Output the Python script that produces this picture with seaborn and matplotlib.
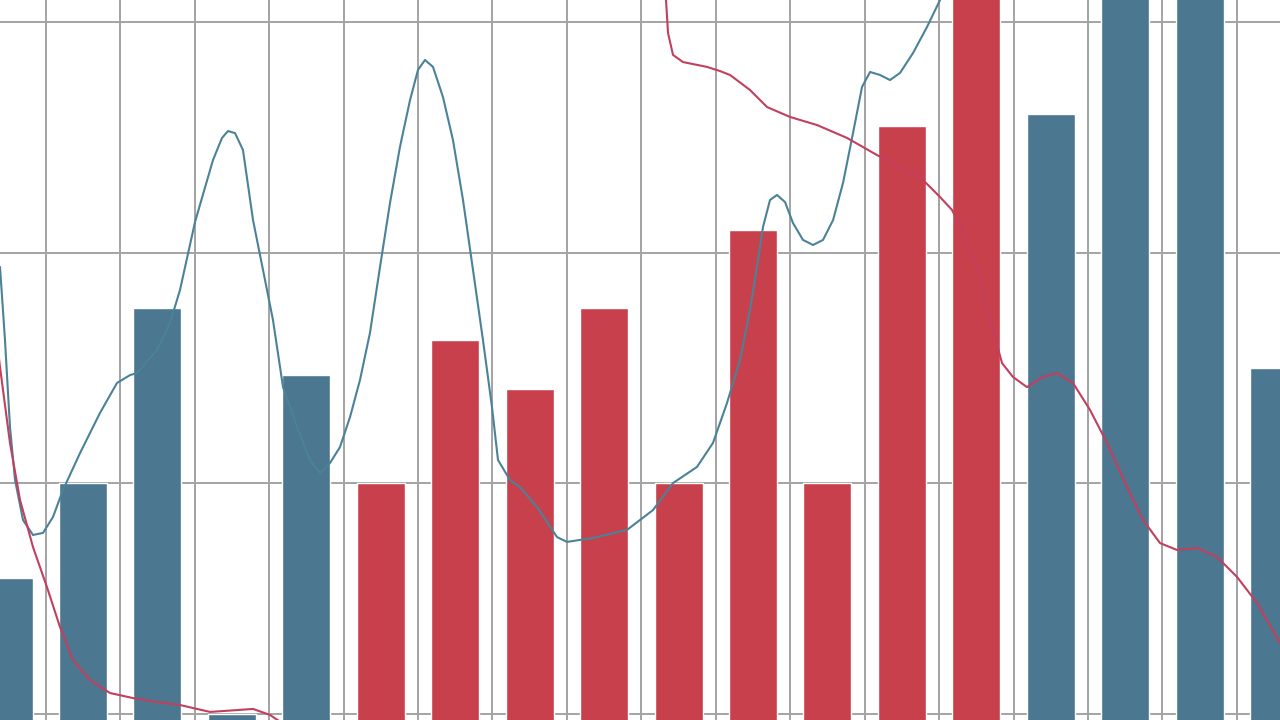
import numpy as np
import pandas as pd
import matplotlib
matplotlib.use("Agg")
import matplotlib.pyplot as plt
import seaborn as sns

# bar data (one bar per slot)
bar_idx = list(range(18))
bar_values = [1.59, 2.0, 2.76, 1.0, 2.47, 2.0, 2.62, 2.41, 2.76, 2.0,
              3.10, 2.0, 3.55, 4.3, 3.60, 4.4, 4.5, 2.50]
bar_group = ["blue"] * 5 + ["red"] * 9 + ["blue"] * 4

# blue curve
blue_x = [-0.115, -0.048, 0.019, 0.087, 0.194, 0.328, 0.463, 0.597, 0.731, 0.960,
          1.228, 1.457, 1.631, 1.725, 1.994, 2.169, 2.303, 2.505, 2.746, 2.867,
          2.948, 3.042, 3.149, 3.284, 3.418, 3.552, 3.687, 3.875, 4.049, 4.184,
          4.318, 4.452, 4.587, 4.721, 4.855, 4.990, 5.124, 5.258, 5.393, 5.500,
          5.594, 5.702, 5.836, 5.970, 6.105, 6.239, 6.373, 6.494, 6.575, 6.736,
          6.870, 7.099, 7.368, 7.502, 7.851, 8.308, 8.657, 8.926, 9.248, 9.463,
          9.651, 9.826, 9.960, 10.068, 10.135, 10.229, 10.323, 10.431, 10.538, 10.672,
          10.807, 10.941, 11.076, 11.210, 11.344, 11.465, 11.573, 11.707, 11.841, 11.976,
          12.150, 12.338, 12.513, 12.647]
blue_y = [2.938, 2.621, 2.244, 2.014, 1.841, 1.776, 1.785, 1.854, 1.971, 2.131,
          2.305, 2.435, 2.469, 2.478, 2.578, 2.695, 2.838, 3.133, 3.401, 3.497,
          3.527, 3.518, 3.445, 3.141, 2.925, 2.708, 2.417, 2.244, 2.101, 2.045,
          2.088, 2.157, 2.287, 2.448, 2.652, 2.938, 3.215, 3.458, 3.661, 3.792,
          3.835, 3.805, 3.674, 3.488, 3.228, 2.925, 2.621, 2.331, 2.101, 2.014,
          1.984, 1.897, 1.767, 1.746, 1.763, 1.798, 1.884, 2.001, 2.071, 2.175,
          2.348, 2.534, 2.751, 2.968, 3.111, 3.228, 3.250, 3.219, 3.128, 3.055,
          3.033, 3.055, 3.141, 3.302, 3.518, 3.718, 3.783, 3.770, 3.748, 3.779,
          3.865, 3.978, 4.095, 4.182]

# red curve, first piece (left side)
red1_x = [-0.222, -0.115, 0.019, 0.154, 0.328, 0.516, 0.691, 0.866, 1.094, 1.363,
          1.672, 1.994, 2.303, 2.706, 3.069, 3.284, 3.512, 3.714, 3.915]
red1_y = [2.795, 2.504, 2.175, 1.928, 1.724, 1.550, 1.377, 1.234, 1.147, 1.091,
          1.069, 1.052, 1.039, 1.009, 1.017, 1.022, 0.996, 0.952, 0.866]

# red curve, second piece (right side)
red2_x = [8.684, 8.832, 8.859, 8.926, 9.060, 9.383, 9.557, 9.692, 9.960, 10.189,
          10.498, 10.861, 11.264, 11.666, 11.975, 12.284, 12.513, 12.674, 12.808, 13.037,
          13.225, 13.346, 13.493, 13.681, 13.896, 14.084, 14.299, 14.528, 14.756, 15.025,
          15.240, 15.468, 15.697, 15.965, 16.234, 16.503, 16.772, 17.080, 17.282]
red2_y = [4.268, 4.095, 3.952, 3.857, 3.826, 3.805, 3.787, 3.770, 3.705, 3.631,
          3.588, 3.553, 3.497, 3.423, 3.371, 3.315, 3.241, 3.185, 3.098, 2.912,
          2.664, 2.521, 2.461, 2.417, 2.461, 2.478, 2.435, 2.318, 2.175, 1.984,
          1.841, 1.741, 1.711, 1.720, 1.681, 1.594, 1.481, 1.308, 1.191]

bars = pd.DataFrame({"idx": bar_idx, "value": bar_values, "group": bar_group})

lines = pd.concat([
    pd.DataFrame({"x": blue_x, "y": blue_y, "series": "blue", "seg": 0}),
    pd.DataFrame({"x": red1_x, "y": red1_y, "series": "red", "seg": 1}),
    pd.DataFrame({"x": red2_x, "y": red2_y, "series": "red", "seg": 2}),
], ignore_index=True)

sns.set_style("white")

fig = plt.figure(figsize=(12.8, 7.2), dpi=100)
ax = fig.add_axes([0, 0, 1, 1])
ax.set_axisbelow(True)

sns.barplot(
    data=bars, x="idx", y="value", hue="group",
    palette={"blue": "#4b7790", "red": "#c8404b"},
    dodge=False, width=0.645, saturation=1, legend=False,
    native_scale=True, ax=ax
)

sns.lineplot(
    data=lines, x="x", y="y", hue="series", units="seg",
    estimator=None, sort=False,
    palette={"blue": "#4a8298", "red": "#c23f5e"},
    linewidth=1.5, legend=False, solid_joinstyle="round", ax=ax
)

ax.set_xticks(np.arange(-0.5, 17.5, 1))
ax.set_yticks([1, 2, 3, 4])
ax.grid(True, color="#a3a3a3", linewidth=1.4)
ax.tick_params(length=0, labelbottom=False, labelleft=False)
ax.set_xlabel("")
ax.set_ylabel("")
for s in ax.spines.values():
    s.set_visible(False)

ax.set_xlim(-0.115, 17.08)
ax.set_ylim(0.974, 4.095)

fig.savefig("out.png", dpi=100)
